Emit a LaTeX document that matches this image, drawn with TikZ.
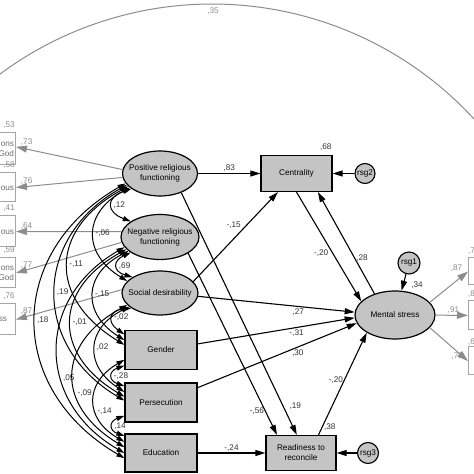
\documentclass[tikz,border=0pt]{standalone}
\usepackage{fontspec}
\setmainfont{Liberation Sans}
\usetikzlibrary{shapes.geometric, arrows.meta}

\definecolor{fillgray}{RGB}{196,196,196}
\definecolor{linegray}{RGB}{140,140,140}
\definecolor{boxgray}{RGB}{165,165,165}
\definecolor{coefcol}{RGB}{50,50,50}
\definecolor{boxtext}{RGB}{110,110,110}

\begin{document}
\begin{tikzpicture}[x=1pt, y=1pt, font=\fontsize{8.2}{10}\selectfont,
    latent/.style={ellipse, draw, line width=1.2pt, fill=fillgray, align=center,
      inner xsep=-5pt, inner ysep=0pt, minimum width=75pt, minimum height=45pt},
    obs/.style={rectangle, draw, line width=1.2pt, fill=fillgray, align=center,
      minimum width=72pt, minimum height=39pt},
    err/.style={circle, draw, line width=1.1pt, fill=fillgray, inner sep=0pt, minimum size=20pt},
    ind/.style={rectangle, draw=boxgray, line width=1pt, fill=white, text=boxtext,
      minimum width=60pt, anchor=east, align=right, inner xsep=1pt, text width=57pt},
    indr/.style={rectangle, draw=boxgray, line width=1pt, fill=white, minimum width=60pt, anchor=west},
    coef/.style={text=coefcol, inner sep=1pt},
    gcoef/.style={text=linegray, inner sep=1pt},
    rsq/.style={coef, anchor=south east, yshift=3pt},
    grsq/.style={gcoef, anchor=south east, yshift=3pt},
    reg/.style={-{Triangle[length=10pt,width=6pt]}, line width=1.1pt},
    load/.style={-{Triangle[length=11pt,width=7pt]}, color=linegray, line width=1pt},
    cov/.style={{Triangle[length=8pt,width=5pt]}-{Triangle[length=8pt,width=5pt]}, line width=1pt},
    covnear/.style={bend right=70, looseness=2.1},
    covmid/.style={bend right=60, looseness=1.45},
    covfar/.style={bend right=60, looseness=1.28}]

  \useasboundingbox (0,0) rectangle (474,474);
  \clip (0,0) rectangle (474,474);

  % exogenous side
  \node[latent] (pos) at (160, 300.5) {Positive religious\\functioning};
  \node[latent] (neg) at (160, 237) {Negative religious\\functioning};
  \node[latent, minimum width=76pt, minimum height=44pt] (soc) at (160, 181) {Social desirability};
  \node[obs] (gen) at (161, 124) {Gender};
  \node[obs] (pers) at (161, 71.5) {Persecution};
  \node[obs, minimum height=38pt] (edu) at (161, 21) {Education};

  % mediators and outcome
  \node[obs, minimum width=71pt, minimum height=36pt, label={[rsq]north east:,68}] (cent) at (296.5, 300.5) {Centrality};
  \node[err] (rsg2) at (365, 300.5) {rsg2};
  \node[obs, minimum width=70pt, minimum height=35pt, label={[rsq]north east:,38}] (read) at (301, 21) {Readiness to\\reconcile};
  \node[err, minimum size=21pt] (rsg3) at (368, 21) {rsg3};
  \node[latent, minimum width=80pt, minimum height=48pt] (ms) at (395, 159) {Mental stress};
  \node[coef] (r34) at (417, 189) {,34};
  \node[err, minimum size=22pt] (rsg1) at (409, 211) {rsg1};

  % indicators
  \node[ind, minimum height=32pt, label={[grsq]north east:,53}] (a1) at (16, 325) {ions\\God};
  \node[ind, minimum height=29pt, label={[grsq]north east:,58}] (a2) at (16, 286.5) {ious};
  \node[ind, minimum height=31pt, label={[grsq]north east:,41}] (a3) at (16, 242.5) {ious};
  \node[ind, minimum height=30pt, label={[grsq]north east:,59}] (a4) at (16, 201) {ions\\God};
  \node[ind, minimum height=31pt, label={[grsq]north east:,76}] (a5) at (16, 154.5) {ss\hspace*{7pt}};
  \node[indr, minimum height=27pt] (m1) at (468, 202.5) {};
  \node[indr, minimum height=29pt] (m2) at (468, 158.5) {};
  \node[indr, minimum height=28pt] (m3) at (468, 113) {};
  \node[gcoef, anchor=west] (r7) at (467, 223) {,7};
  \node[gcoef, anchor=west] (r8) at (467, 180) {,8};
  \node[gcoef, anchor=west] (r6) at (467, 132) {,6};

  \coordinate (cL) at (-39.7, 365.7);
  \draw[linegray, line width=1pt] (cL) arc[start angle=135, end angle=38, radius=356];
  \node[gcoef] (c35) at (213, 463) {,35};

  \path[reg]
    (pos) edge node[coef, above] {,83} (cent)
    (rsg2) edge (cent)
    (soc.19) edge node[coef, pos=0.58, above left] {-,15} (cent.225)
    (cent.south) edge node[coef, pos=0.56, left=3pt] {-,20} (ms.158)
    (ms.134) edge node[coef, pos=0.35, right] {,28} (cent.319)
    (soc.355) edge node[coef, pos=0.64, below=1pt] {,27} (ms.176)
    (gen) edge node[coef, pos=0.63, below=1pt] {-,31} (ms.184)
    (pers) edge node[coef, pos=0.63, below=1pt] {,30} (ms.192)
    (read.46) edge node[coef, pos=0.54, left] {-,20} (ms.212)
    (rsg1) edge (ms)
    (rsg3) edge (read)
    (edu) edge node[coef, above] {-,24} (read)
    (pos.318) edge node[coef, pos=0.88, right=5pt] {,19} (read.103)
    (neg.330) edge node[coef, pos=0.87, left=0pt] {-,56} (read.143);

  \path[load]
    (pos.174) edge node[gcoef, pos=0.9, above=2pt] {,73} (a1.4)
    (pos.186) edge node[gcoef, pos=0.9, above] {,76} (a2.east)
    (neg.172) edge node[gcoef, pos=0.9, above] {,64} (a3.east)
    (neg.188) edge node[gcoef, pos=0.9, above] {,77} (a4.east)
    (soc.175) edge node[gcoef, pos=0.9, above] {,87} (a5.east)
    (ms.20) edge node[gcoef, pos=0.7, above=8pt] {,87} (m1.west)
    (ms) edge node[gcoef, pos=0.55, above] {,91} (m2)
    (ms.340) edge node[gcoef, pos=0.72, below] {,79} (m3.west);

  \path[cov]
    (pos.208) edge[covnear] node[coef, right] {,12} (neg.152)
    (pos.205) edge[covmid] node[coef, right] {-,06} (soc.160)
    (pos.202) edge[covmid] node[coef, right] {-,11} (gen.172)
    (pos.199) edge[covfar] node[coef, right] {,19} (pers.177)
    (pos.196) edge[covfar] node[coef, right] {,18} (edu.188)
    (neg.208) edge[covnear] node[coef, right] {,69} (soc.150)
    (neg.204) edge[covmid] node[coef, right] {-,15} (gen.165)
    (neg.200) edge[covmid] node[coef, right] {-,01} (pers.171)
    (neg.196) edge[covfar] node[coef, pos=0.62, right] {,05} (edu.180)
    (soc.208) edge[covnear] node[coef, right] {-,02} (gen.157)
    (soc.204) edge[covmid] node[coef, right] {,02} (pers.164)
    (soc.200) edge[covmid] node[coef, pos=0.62, right] {-,09} (edu.171)
    (gen.203) edge[covnear] node[coef, right] {-,28} (pers.156)
    (gen.195) edge[covmid] node[coef, pos=0.62, right] {-,14} (edu.163)
    (pers.200) edge[covnear] node[coef, right] {,14} (edu.155);
\end{tikzpicture}
\end{document}
